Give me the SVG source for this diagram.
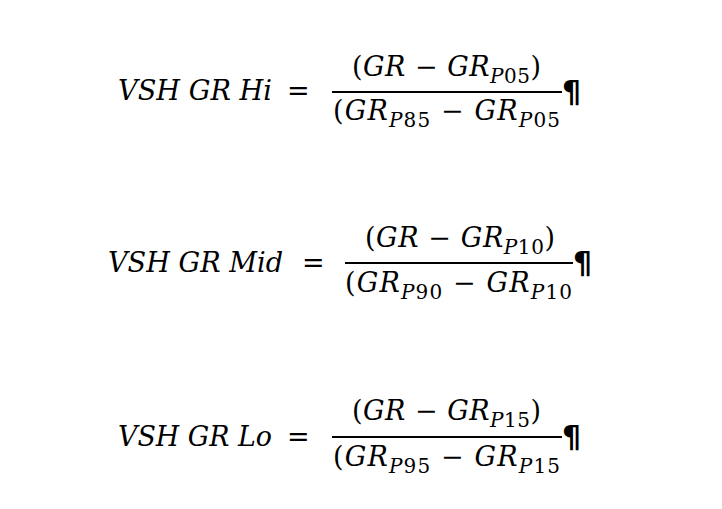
<svg xmlns="http://www.w3.org/2000/svg" width="722" height="509" viewBox="0 0 722 509">
<style>
text{font-family:"DejaVu Serif","Liberation Serif",serif;font-size:27px;fill:#000}
.i{font-style:italic}
.s{font-size:20px;font-style:normal}
.u{font-family:"DejaVu Sans",sans-serif;font-size:30px;font-weight:bold}
line{stroke:#000;stroke-width:2}
</style>
<rect width="722" height="509" fill="#fff"/>
<g id="eq-hi">
<text class="i" x="118" y="100" textLength="154" lengthAdjust="spacingAndGlyphs">VSH GR Hi</text>
<text x="287" y="100">=</text>
<line x1="332" y1="92" x2="562" y2="92"/>
<text x="352" y="76" textLength="189"><tspan>(</tspan><tspan class="i">GR</tspan><tspan> − </tspan><tspan class="i">GR</tspan><tspan class="s" dy="7"><tspan class="i">P</tspan>05</tspan><tspan dy="-7">)</tspan></text>
<text x="333" y="120" textLength="227"><tspan>(</tspan><tspan class="i">GR</tspan><tspan class="s" dy="7"><tspan class="i">P</tspan>85</tspan><tspan dy="-7"> −  </tspan><tspan class="i">GR</tspan><tspan class="s" dy="7"><tspan class="i">P</tspan>05</tspan></text>
<text class="u" x="562" y="102">¶</text>
</g>
<g id="eq-mid">
<text class="i" x="108" y="272" textLength="175" lengthAdjust="spacingAndGlyphs">VSH GR Mid</text>
<text x="302" y="272">=</text>
<line x1="345" y1="263" x2="573" y2="263"/>
<text x="365" y="247" textLength="190"><tspan>(</tspan><tspan class="i">GR</tspan><tspan> − </tspan><tspan class="i">GR</tspan><tspan class="s" dy="7"><tspan class="i">P</tspan>10</tspan><tspan dy="-7">)</tspan></text>
<text x="345" y="292" textLength="227"><tspan>(</tspan><tspan class="i">GR</tspan><tspan class="s" dy="7"><tspan class="i">P</tspan>90</tspan><tspan dy="-7"> −  </tspan><tspan class="i">GR</tspan><tspan class="s" dy="7"><tspan class="i">P</tspan>10</tspan></text>
<text class="u" x="573" y="273">¶</text>
</g>
<g id="eq-lo">
<text class="i" x="118" y="446" textLength="154" lengthAdjust="spacingAndGlyphs">VSH GR Lo</text>
<text x="287" y="446">=</text>
<line x1="332" y1="437" x2="562" y2="437"/>
<text x="352" y="420" textLength="189"><tspan>(</tspan><tspan class="i">GR</tspan><tspan> − </tspan><tspan class="i">GR</tspan><tspan class="s" dy="7"><tspan class="i">P</tspan>15</tspan><tspan dy="-7">)</tspan></text>
<text x="333" y="466" textLength="227"><tspan>(</tspan><tspan class="i">GR</tspan><tspan class="s" dy="7"><tspan class="i">P</tspan>95</tspan><tspan dy="-7"> −  </tspan><tspan class="i">GR</tspan><tspan class="s" dy="7"><tspan class="i">P</tspan>15</tspan></text>
<text class="u" x="562" y="447">¶</text>
</g>
</svg>
